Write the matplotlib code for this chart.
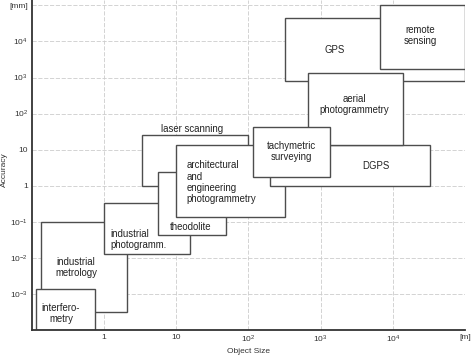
import matplotlib
matplotlib.use('Agg')
import matplotlib.pyplot as plt
from matplotlib.patches import Rectangle

plt.rcParams['font.family'] = ['Liberation Sans', 'DejaVu Sans']
plt.rcParams['mathtext.default'] = 'regular'

# boxes: object size range [m] and accuracy range [mm], drawn in this order
names = ['industrial\nmetrology', 'interfero-\nmetry', 'industrial\nphotogramm.',
         'laser scanning', 'theodolite',
         'architectural\nand\nengineering\nphotogrammetry',
         'DGPS', 'GPS', 'aerial\nphotogrammetry', 'remote\nsensing',
         'tachymetric\nsurveying']
size_lo = [0.132, 0.114, 1.0, 3.3, 5.6, 10, 200, 320, 660, 6700, 116]
size_hi = [2.04, 0.75, 15.6, 100, 49, 320, 33000, 1e5, 13800, 1e5, 1350]
acc_lo = [3.2e-4, 1e-4, 0.013, 1.0, 0.044, 0.135, 1.0, 790, 13.5, 1780, 1.8]
acc_hi = [0.1, 1.38e-3, 0.33, 25, 2.4, 13.5, 13.5, 43600, 1370, 1e5, 42.7]

# label anchor points and alignment
label_x = [0.41, 0.253, 1.21, 16.7, 15.6, 13.8, 5800, 1550, 2940, 24300, 395]
label_y = [5.3e-3, 2.8e-4, 0.0316, 38, 0.073, 1.25, 3.6, 5730, 178, 14700, 8.8]
label_ha = ['center', 'center', 'left', 'center', 'center', 'left',
            'center', 'center', 'center', 'center', 'center']

xticks = [1, 10, 100, 1e3, 1e4, 1e5]
xticklabels = ['1', '10', '$10^2$', '$10^3$', '$10^4$', '[m]']
yticks = [1e-3, 1e-2, 1e-1, 1, 10, 100, 1e3, 1e4, 1e5]
yticklabels = ['$10^{-3}$', '$10^{-2}$', '$10^{-1}$', '1', '10',
               '$10^2$', '$10^3$', '$10^4$', '[mm]']

fig = plt.figure(figsize=(4.74, 3.63), dpi=100)
ax = fig.add_axes([0.0675, 0.091, 0.9135, 0.909])
ax.set_xscale('log')
ax.set_yscale('log')
ax.set_xlim(0.1, 1e5)
ax.set_ylim(1e-4, 10 ** 5.15)

for i, n in enumerate(names):
    r = Rectangle((size_lo[i], acc_lo[i]), size_hi[i] - size_lo[i],
                  acc_hi[i] - acc_lo[i], facecolor='white',
                  edgecolor='#4d4d4d', linewidth=1.0, zorder=2 + i)
    ax.add_patch(r)
    ax.text(label_x[i], label_y[i], n, ha=label_ha[i], va='center',
            fontsize=6.9, color='#222222', linespacing=1.15, zorder=30)

ax.set_xticks(xticks)
ax.set_xticklabels(xticklabels)
ax.set_yticks(yticks)
ax.set_yticklabels(yticklabels)
ax.minorticks_off()
ax.tick_params(length=0, labelsize=6, colors='#333333', pad=3)
ax.grid(True, color='#cccccc', linestyle=(0, (5, 2)), linewidth=0.6)
ax.set_axisbelow(True)

for s in ['top', 'right']:
    ax.spines[s].set_visible(False)
for s in ['left', 'bottom']:
    ax.spines[s].set_color('#333333')
    ax.spines[s].set_linewidth(1.3)
    ax.spines[s].set_zorder(40)

ax.set_xlabel('Object Size', fontsize=6, color='#333333', labelpad=2)
ax.set_ylabel('Accuracy', fontsize=6, color='#333333')
ax.yaxis.set_label_coords(-0.055, 0.485)

fig.savefig('out.png', dpi=100)
